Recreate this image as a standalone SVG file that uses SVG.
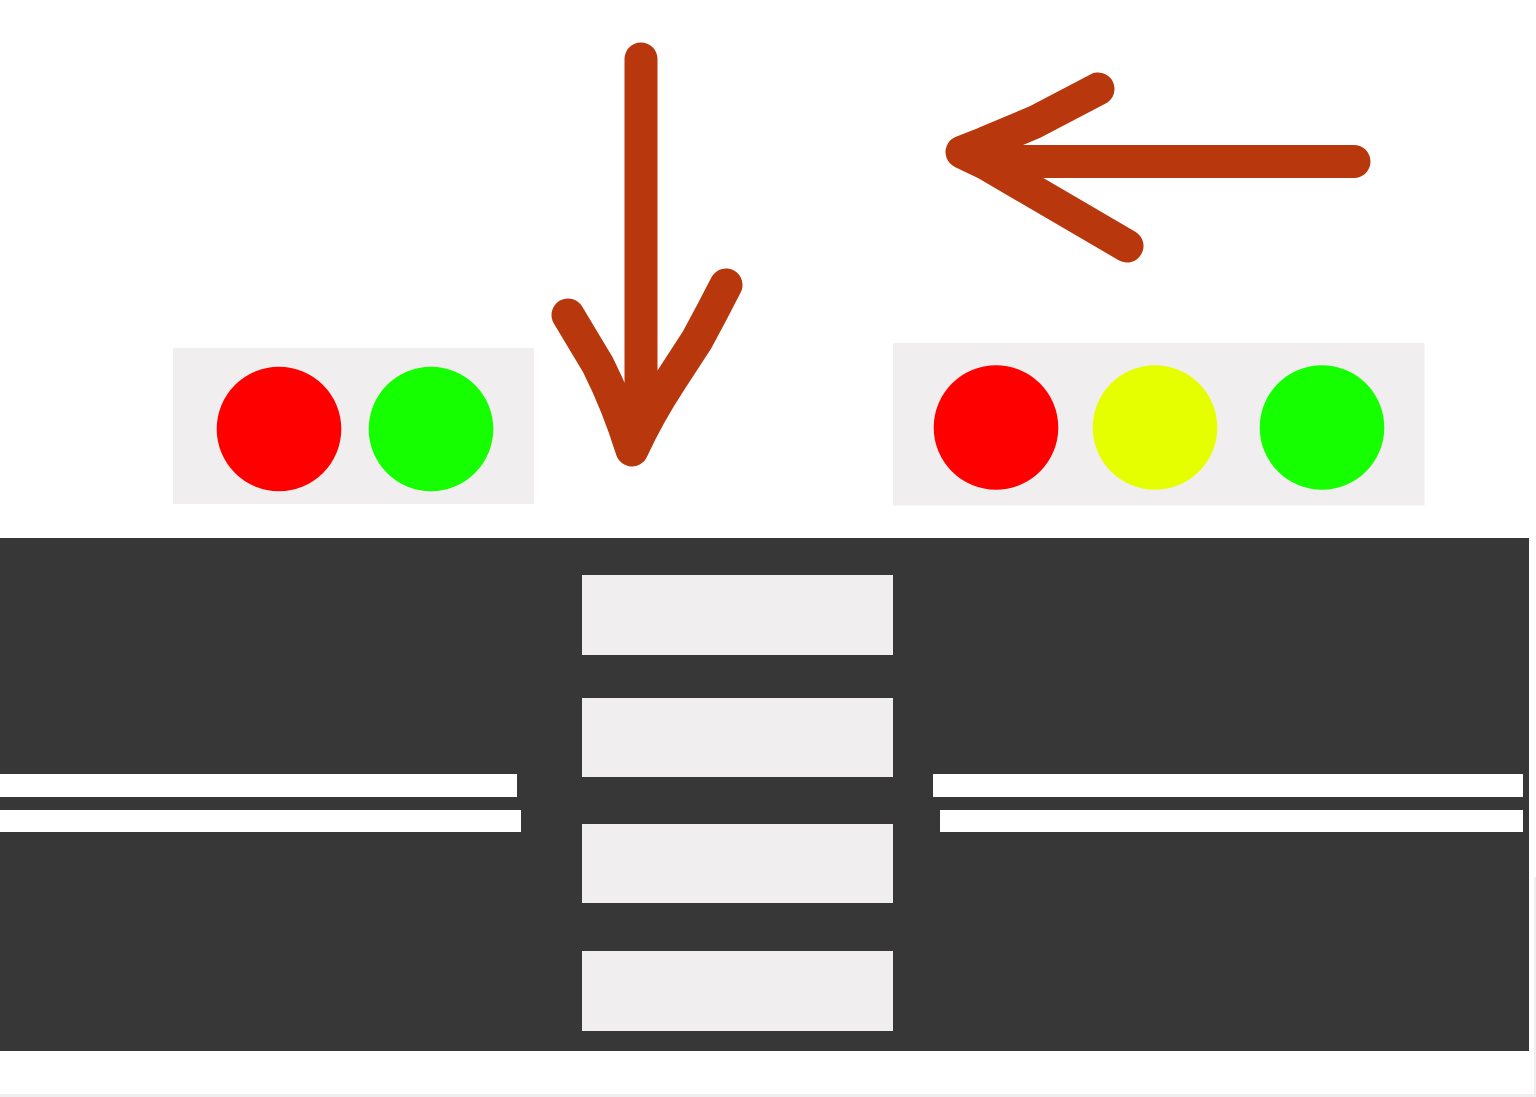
<svg xmlns="http://www.w3.org/2000/svg" width="1536" height="1097" viewBox="0 0 1536 1097">
<style>
.panel{fill:#f0eeef}
.mark{fill:#ffffff}
.stroke{fill:none;stroke:#b9370c;stroke-width:33;stroke-linecap:round;stroke-linejoin:round}
.red{fill:#ff0000}.yellow{fill:#e6ff00}.green{fill:#15ff00}
</style>
<rect width="1536" height="1097" fill="#ffffff"/>
<!-- pale sheet edge along the lower right -->
<g id="sheet-edge">
<rect class="panel" x="1534" y="877" width="2" height="220"/>
<rect class="panel" x="0" y="1094" width="1536" height="3"/>
</g>
<g id="road">
<rect x="0" y="538" width="1529" height="513" fill="#373737"/>
<rect class="mark" x="0" y="774" width="517" height="23"/>
<rect class="mark" x="0" y="810" width="521" height="22"/>
<rect class="mark" x="933" y="774" width="590" height="23"/>
<rect class="mark" x="940" y="810" width="583" height="22"/>
</g>
<g id="crossing">
<rect class="panel" x="582" y="575" width="311" height="80"/>
<rect class="panel" x="582" y="698" width="311" height="79"/>
<rect class="panel" x="582" y="824" width="311" height="79"/>
<rect class="panel" x="582" y="951" width="311" height="80"/>
</g>
<g id="signal-left">
<rect class="panel" x="173" y="348" width="361" height="156"/>
<circle class="red" cx="279" cy="429" r="62.300"/>
<circle class="green" cx="431" cy="429" r="62.300"/>
</g>
<g id="signal-right">
<rect class="panel" x="893" y="343" width="531.500" height="162.500"/>
<circle class="red" cx="996" cy="427.500" r="62.300"/>
<circle class="yellow" cx="1155" cy="427.500" r="62.300"/>
<circle class="green" cx="1322" cy="427.500" r="62.300"/>
</g>
<g id="connectors">
<path id="arrow-down" class="stroke" d="M641 59V420M568 315L598 365Q618 405 632 450Q648 415 671 380L697 340L712 312L726 285"/>
<path id="arrow-left" class="stroke" d="M1354 161.500H990M1098 89L1035 122L985 143L962 152L985 163L1127 246"/>
</g>
</svg>
